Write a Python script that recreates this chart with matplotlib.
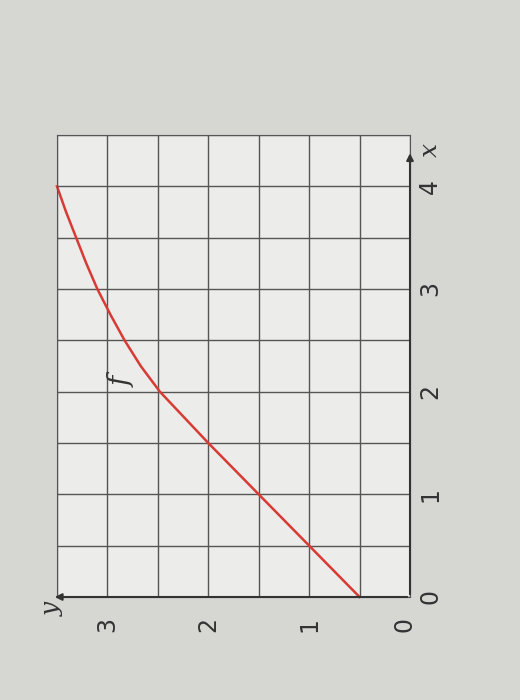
import matplotlib
matplotlib.use("Agg")
import matplotlib.pyplot as plt
import numpy as np

# data (x is drawn vertically, y horizontally, as in the rotated photo)
x_vals = [0, 0.5, 1, 1.5, 2, 2.25, 2.5, 2.75, 3, 3.25, 3.5, 3.75, 4]
f_vals = [0.5, 1.0, 1.5, 2.0, 2.48, 2.67, 2.83, 2.97, 3.1, 3.21, 3.31, 3.41, 3.5]
x_ticks = [0, 1, 2, 3, 4]
y_ticks = [1, 2, 3]

W, H = 520, 700
fig = plt.figure(figsize=(W/100, H/100), dpi=100)
fig.patch.set_facecolor("#d6d7d3")

def fx(px): return px / W
def fy(py): return 1 - py / H

ax = fig.add_axes([fx(57), fy(597), fx(410) - fx(57), fy(135) - fy(597)])
ax.set_facecolor("#ececea")
ax.set_xlim(3.5, 0)
ax.set_ylim(0, 4.5)
ax.set_xticks(np.arange(0, 3.51, 0.5))
ax.set_yticks(np.arange(0, 4.51, 0.5))
ax.grid(True, color="#555555", lw=1.0)
ax.tick_params(length=0, labelleft=False, labelbottom=False)
for s in ax.spines.values():
    s.set_color("#555555")
ax.set_axisbelow(True)

ax.plot(f_vals, x_vals, color="#d83a34", lw=1.8, clip_on=False,
        solid_joinstyle="round")

# axes with arrows
ax.annotate("", xy=(0, 4.35), xytext=(0, 0), annotation_clip=False,
            arrowprops=dict(arrowstyle="-|>", color="#333333", lw=1.5))
ax.annotate("", xy=(3.55, 0), xytext=(0, 0), annotation_clip=False,
            arrowprops=dict(arrowstyle="-|>", color="#333333", lw=1.5))

for t in x_ticks:
    ax.text(-0.2, t, str(t), rotation=90, ha="center", va="center",
            fontsize=17, color="#333333", clip_on=False)
for t in y_ticks:
    ax.text(t, -0.27, str(t), rotation=90, ha="center", va="center",
            fontsize=17, color="#333333", clip_on=False)
ax.text(0.05, -0.27, "0", rotation=90, ha="center", va="center",
        fontsize=17, color="#333333", clip_on=False)
ax.text(-0.2, 4.35, "x", rotation=90, ha="center", va="center",
        fontsize=18, style="italic", family="DejaVu Serif", color="#333333", clip_on=False)
ax.text(3.55, -0.12, "y", rotation=90, ha="center", va="center",
        fontsize=18, style="italic", family="DejaVu Serif", color="#333333", clip_on=False)
ax.text(2.85, 2.1, "f", rotation=90, ha="center", va="center",
        fontsize=20, style="italic", family="DejaVu Serif", color="#333333")

fig.savefig("out.png", dpi=100, facecolor=fig.get_facecolor())
